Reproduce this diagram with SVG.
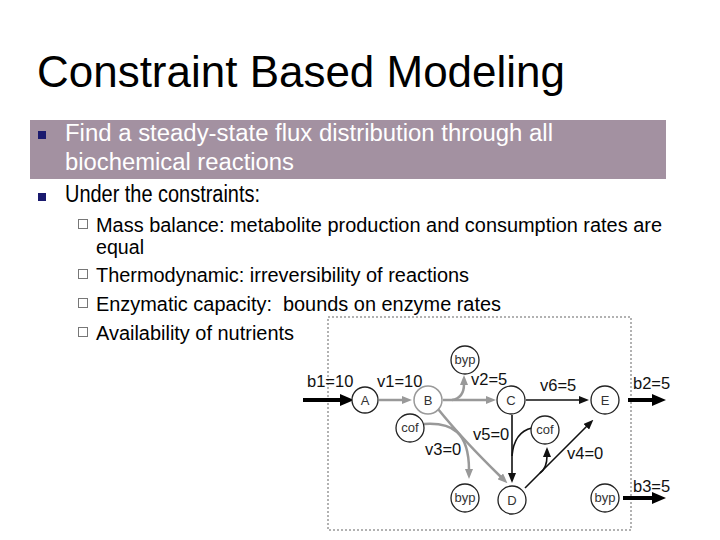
<svg xmlns="http://www.w3.org/2000/svg" width="720" height="540" viewBox="0 0 720 540">
<defs>
<style>
.title{font-family:"Liberation Sans",Arial,sans-serif;font-size:44px;fill:#000}
.b1{font-family:"Liberation Sans",Arial,sans-serif;font-size:23.5px;fill:#000}
.w{fill:#fff}
.b2{font-family:"Liberation Sans",Arial,sans-serif;font-size:20px;fill:#000}
.lbl{font-family:"Liberation Sans",Arial,sans-serif;font-size:16.5px;fill:#111}
.nt{font-family:"Liberation Sans",Arial,sans-serif;font-size:13px;fill:#333;text-anchor:middle}
.node{fill:#fff;stroke:#222;stroke-width:1.3}
.gnode{fill:#fff;stroke:#999;stroke-width:1.5}
.big{stroke:#000;stroke-width:4;fill:none}
.gray{stroke:#999;stroke-width:2.5;fill:none}
.blk{stroke:#111;stroke-width:1.6;fill:none}
</style>
<marker id="mBig" viewBox="0 0 14 12" markerWidth="14" markerHeight="12" refX="2" refY="6" orient="auto" markerUnits="userSpaceOnUse"><path d="M0,0 L14,6 L0,12 z" fill="#000"/></marker>
<marker id="mGray" viewBox="0 0 10 8" markerWidth="10" markerHeight="8" refX="1" refY="4" orient="auto" markerUnits="userSpaceOnUse"><path d="M0,0 L10,4 L0,8 z" fill="#999"/></marker>
<marker id="mBlk" viewBox="0 0 10 8" markerWidth="10" markerHeight="8" refX="1" refY="4" orient="auto" markerUnits="userSpaceOnUse"><path d="M0,0 L10,4 L0,8 z" fill="#111"/></marker>
</defs>
<rect width="720" height="540" fill="#fff"/>
<text class="title" x="37" y="87" textLength="528" lengthAdjust="spacingAndGlyphs">Constraint Based Modeling</text>
<rect x="30" y="120" width="636" height="59" fill="#a391a1"/>
<rect x="38" y="131" width="8" height="8" fill="#1a1a6e"/>
<text class="b1 w" x="65" y="141" textLength="488" lengthAdjust="spacingAndGlyphs">Find a steady-state flux distribution through all</text>
<text class="b1 w" x="65" y="170" textLength="229" lengthAdjust="spacingAndGlyphs">biochemical reactions</text>
<rect x="38" y="193" width="8" height="8" fill="#1a1a6e"/>
<text class="b1" x="65" y="202" textLength="195" lengthAdjust="spacingAndGlyphs">Under the constraints:</text>
<g fill="none" stroke="#777" stroke-width="1">
<rect x="78.5" y="219.5" width="9" height="9"/>
<rect x="78.5" y="269.5" width="9" height="9"/>
<rect x="78.5" y="298.5" width="9" height="9"/>
<rect x="78.5" y="327.5" width="9" height="9"/>
</g>
<text class="b2" x="96" y="232" textLength="566" lengthAdjust="spacingAndGlyphs">Mass balance: metabolite production and consumption rates are</text>
<text class="b2" x="96" y="254" textLength="48" lengthAdjust="spacingAndGlyphs">equal</text>
<text class="b2" x="96" y="282" textLength="373" lengthAdjust="spacingAndGlyphs">Thermodynamic: irreversibility of reactions</text>
<text class="b2" x="96" y="311" textLength="405" xml:space="preserve" lengthAdjust="spacingAndGlyphs">Enzymatic capacity:  bounds on enzyme rates</text>
<text class="b2" x="96" y="340" textLength="198" lengthAdjust="spacingAndGlyphs">Availability of nutrients</text>
<rect x="328" y="317" width="303" height="213" fill="none" stroke="#999" stroke-width="1.5" stroke-dasharray="2,2"/>
<g id="connectors">
<path class="big" d="M303,400 H342" marker-end="url(#mBig)"/>
<path class="gray" d="M379,400 H403" marker-end="url(#mGray)"/>
<path class="gray" d="M443,400 H487" marker-end="url(#mGray)"/>
<path class="gray" d="M452,400 Q464,398 464,384" marker-end="url(#mGray)"/>
<path class="blk" d="M526,400 H580" marker-end="url(#mBlk)"/>
<path class="big" d="M628,400 H654" marker-end="url(#mBig)"/>
<path class="blk" d="M512,415 V474" marker-end="url(#mBlk)"/>
<path class="blk" d="M532,428 Q514,432 512,456"/>
<path class="blk" d="M525,488 L587,426" marker-end="url(#mBlk)"/>
<path class="blk" d="M540,473 Q547,468 547,456" marker-end="url(#mBlk)"/>
<path class="gray" d="M438,409 Q463,440 501,477" marker-end="url(#mGray)"/>
<path class="gray" d="M424,424 C452,422 469,432 469,470" marker-end="url(#mGray)"/>
<path class="big" d="M623,498 H654" marker-end="url(#mBig)"/>
</g>
<g id="labels">
<text class="lbl" x="307" y="387">b1=10</text>
<text class="lbl" x="377" y="387">v1=10</text>
<text class="lbl" x="471" y="385">v2=5</text>
<text class="lbl" x="540" y="391">v6=5</text>
<text class="lbl" x="633" y="389">b2=5</text>
<text class="lbl" x="473" y="440">v5=0</text>
<text class="lbl" x="425" y="455">v3=0</text>
<text class="lbl" x="567" y="459">v4=0</text>
<text class="lbl" x="633" y="492">b3=5</text>
</g>
<g id="A"><circle class="node" cx="365" cy="400" r="13"/><text class="nt" x="365" y="405">A</text></g>
<g id="B"><circle class="gnode" cx="428" cy="400" r="14"/><text class="nt" x="428" y="405">B</text></g>
<g id="C"><circle class="node" cx="511" cy="400" r="14"/><text class="nt" x="511" y="405">C</text></g>
<g id="E"><circle class="node" cx="605" cy="400" r="14"/><text class="nt" x="605" y="405">E</text></g>
<g id="byp1"><circle class="node" cx="465" cy="360" r="14"/><text class="nt" x="465" y="364">byp</text></g>
<g id="cof1"><circle class="node" cx="410" cy="428" r="14"/><text class="nt" x="410" y="432">cof</text></g>
<g id="cof2"><circle class="node" cx="545" cy="430" r="14"/><text class="nt" x="545" y="434">cof</text></g>
<g id="byp2"><circle class="node" cx="465" cy="498" r="14"/><text class="nt" x="465" y="502">byp</text></g>
<g id="D"><circle class="node" cx="512" cy="500" r="14"/><text class="nt" x="512" y="505">D</text></g>
<g id="byp3"><circle class="node" cx="605" cy="498" r="14"/><text class="nt" x="605" y="502">byp</text></g>
</svg>
